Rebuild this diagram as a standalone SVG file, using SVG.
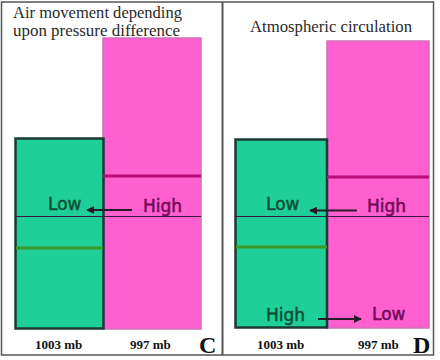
<svg xmlns="http://www.w3.org/2000/svg" width="440" height="360" viewBox="0 0 440 360">
<style>
.title{font-family:"Liberation Serif","Times New Roman",serif;font-size:17px;fill:#2a2a2a}
.mb{font-family:"Liberation Serif","Times New Roman",serif;font-size:13px;font-weight:bold;fill:#111}
.big{font-family:"Liberation Serif","Times New Roman",serif;font-size:24px;font-weight:bold;fill:#111}
.lbl{font-family:"DejaVu Sans",sans-serif;font-size:17px;stroke-width:0.5}
.g{fill:#0b4f33;stroke:#0b4f33}
.p{fill:#6e0c58;stroke:#6e0c58}
.green{fill:#1ecf98;stroke:#1c3a34;stroke-width:2.5}
.pink{fill:#ff5fcf;stroke:#d070b8;stroke-width:1.5}
.mag{stroke:#b80c78;stroke-width:3}
.thin{stroke:#3e1640;stroke-width:1}
.oliv{stroke:#3c9a2a;stroke-width:3}
.arr{stroke:#2a1a2a;stroke-width:2;fill:none}
</style>
<defs>
<marker id="ah" viewBox="0 0 10 10" refX="9" refY="5" markerWidth="4" markerHeight="4" orient="auto">
<path d="M0,0 L10,5 L0,10 z" fill="#2a1a2a"/>
</marker>
</defs>
<rect x="0" y="0" width="440" height="360" fill="#fff"/>
<rect x="1.5" y="2" width="432" height="353" fill="none" stroke="#555" stroke-width="1.5"/>
<line x1="222.5" y1="2" x2="222.5" y2="355" stroke="#555" stroke-width="2"/>

<g id="panelC">
<text class="title" x="13" y="18" textLength="169" lengthAdjust="spacingAndGlyphs">Air movement depending</text>
<text class="title" x="13" y="36" textLength="167" lengthAdjust="spacingAndGlyphs">upon pressure difference</text>
<g id="C-pink"><rect class="pink" x="103" y="38" width="98" height="291"/></g>
<g id="C-green"><rect class="green" x="15.5" y="138.5" width="88" height="190"/></g>
<line class="mag" x1="103" y1="176" x2="201" y2="176"/>
<line class="thin" x1="15" y1="216.5" x2="201" y2="216.5"/>
<line class="oliv" x1="16" y1="248" x2="103" y2="248"/>
<text class="lbl g" x="48" y="210">Low</text>
<text class="lbl p" x="143" y="212">High</text>
<text class="mb" x="35" y="349">1003 mb</text>
<text class="mb" x="130" y="349">997 mb</text>
<text class="big" x="199" y="353">C</text>
</g>

<g id="panelD">
<text class="title" x="250" y="32" textLength="162" lengthAdjust="spacingAndGlyphs">Atmospheric circulation</text>
<g id="D-pink"><rect class="pink" x="327" y="41" width="102" height="287"/></g>
<g id="D-green"><rect class="green" x="235.5" y="139.5" width="91.5" height="188"/></g>
<line class="mag" x1="327" y1="177" x2="429" y2="177"/>
<line class="thin" x1="235" y1="216.5" x2="429" y2="216.5"/>
<line class="oliv" x1="236" y1="247" x2="327" y2="247"/>
<text class="lbl g" x="266" y="210">Low</text>
<text class="lbl p" x="367" y="212">High</text>
<text class="lbl g" x="266" y="321">High</text>
<text class="lbl p" x="372" y="320">Low</text>
<text class="mb" x="257" y="349">1003 mb</text>
<text class="mb" x="358" y="349">997 mb</text>
<text class="big" x="413" y="353">D</text>
</g>

<g id="connectors">
<line class="arr" x1="132" y1="210" x2="87" y2="210" marker-end="url(#ah)"/>
<line class="arr" x1="357" y1="210.5" x2="310" y2="210.5" marker-end="url(#ah)"/>
<line class="arr" x1="318" y1="319" x2="361" y2="319" marker-end="url(#ah)"/>
</g>
</svg>
